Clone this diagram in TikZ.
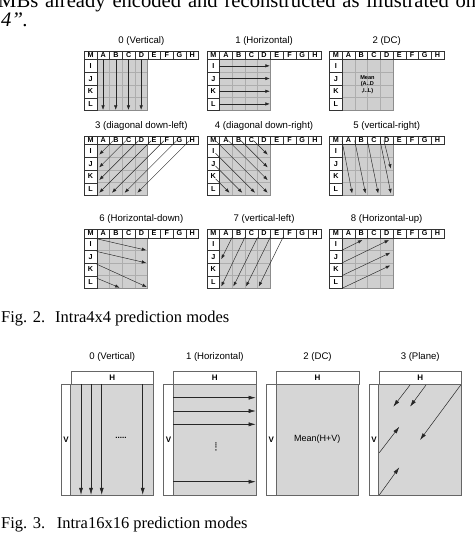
\documentclass[tikz,border=0pt]{standalone}
\usepackage{fontspec}
\setmainfont{Liberation Serif}
\setsansfont{Liberation Sans}
\usetikzlibrary{arrows.meta,positioning}
\tikzset{>={Latex[length=4.5pt,width=3.4pt]}}

\begin{document}
\begin{tikzpicture}[
    x=1pt, y=-1pt,
    hdr/.style={
      draw=black!80,
      line width=0.45pt,
      fill=white,
      inner sep=0pt,
      font=\sffamily\bfseries\fontsize{7.2}{8}\selectfont,
      minimum width=12.7pt,
    },
    toprow/.style={hdr, minimum height=8.5pt},
    leftcol/.style={hdr, minimum height=12.7pt},
    inner/.style={draw=black!32, line width=0.4pt},
    blk/.style={shift={#1}, shift={(12.7,8.5)}, x=12.7pt, y=-12.7pt},
    ray/.style={->, draw=black!85, line width=0.45pt},
    bigray/.style={-{Latex[length=7pt,width=4pt]}, draw=black!85, line width=0.5pt},
    title/.style={font=\sffamily\fontsize{9.6}{11}\selectfont, inner sep=0pt},
    bigbox/.style={
      draw=black!60,
      line width=0.45pt,
      fill=white,
      inner sep=0pt,
      font=\sffamily\bfseries\fontsize{8}{9}\selectfont,
    },
    caption/.style={anchor=base west, inner sep=0pt, font=\fontsize{16.5}{19}\selectfont},
    grid4/.pic={
      \fill[black!19] (12.7,8.5) rectangle (63.5,59.3);
      \foreach \i in {1,2,3} {
        \draw[inner] (12.7+\i*12.7,8.5) -- ++(0,50.8);
        \draw[inner] (12.7,8.5+\i*12.7) -- ++(50.8,0);
      }
      \draw[draw=black!45, line width=0.45pt] (12.7,8.5) rectangle (63.5,59.3);
      \foreach \l [count=\i from 0] in {M,A,B,C,D,E,F,G,H}
        \node[toprow, anchor=north west] (-\l) at (\i*12.7,0) {\l};
      \foreach \l [count=\j from 0] in {I,J,K,L}
        \node[leftcol, anchor=north west] (-\l) at (0,8.5+\j*12.7) {\l};
    },
    grid16/.pic={
      \node[bigbox, minimum width=82.6pt, minimum height=13.3pt, anchor=north west] (-H) at (10,0) {H};
      \node[bigbox, minimum width=10pt, minimum height=110.7pt, anchor=north west] (-V) at (0,13.3) {V};
      \filldraw[fill=black!16, draw=black!60, line width=0.45pt] (10,13.3) rectangle (92.6,124);
    },
  ]
  \useasboundingbox (0,0) rectangle (474,534);

  % running text above the figures
  \node[anchor=base west, inner sep=0pt, font=\fontsize{20.6}{24}\selectfont] (body1) at (-2,7.5)
    {\makebox[478pt][s]{MBs already encoded and reconstructed as illustrated on}};
  \node[anchor=base west, inner sep=0pt, font=\fontsize{20.6}{24}\selectfont] (body2) at (1,26.7)
    {\itshape 4”.};

  % Intra4x4 grids
  \pic (g0) at (84,51) {grid4};
  \pic (g1) at (206.7,51) {grid4};
  \pic (g2) at (329.3,51) {grid4};
  \pic (g3) at (84,136) {grid4};
  \pic (g4) at (206.7,136) {grid4};
  \pic (g5) at (329.3,136) {grid4};
  \pic (g6) at (84,229) {grid4};
  \pic (g7) at (206.7,229) {grid4};
  \pic (g8) at (329.3,229) {grid4};

  \node[title, above=5pt of g0-D] (t0) {0 (Vertical)};
  \node[title, above=5pt of g1-D] (t1) {1 (Horizontal)};
  \node[title, above=5pt of g2-D] (t2) {2 (DC)};
  \node[title, above=5pt of g3-D] (t3) {3 (diagonal down-left)};
  \node[title, above=5pt of g4-D] (t4) {4 (diagonal down-right)};
  \node[title, above=5pt of g5-D] (t5) {5 (vertical-right)};
  \node[title, above=5pt of g6-D] (t6) {6 (Horizontal-down)};
  \node[title, above=5pt of g7-D] (t7) {7 (vertical-left)};
  \node[title, above=5pt of g8-D] (t8) {8 (Horizontal-up)};

  % mode 0
  \begin{scope}[blk={(84,51)}]
    \foreach \u in {0.5,1.5,2.5,3.5}
      \draw[ray] (\u,0) -- (\u,3.97);
  \end{scope}
  % mode 1
  \begin{scope}[blk={(206.7,51)}]
    \foreach \v in {0.5,1.5,2.5,3.5}
      \draw[ray] (0,\v) -- (3.97,\v);
  \end{scope}
  % mode 2
  \begin{scope}[blk={(329.3,51)}]
    \node[align=center, inner sep=0pt, font=\sffamily\bfseries\fontsize{5.6}{6.6}\selectfont] (dc4) at (2,1.95)
      {Mean\\(A..D\\,I..L)};
  \end{scope}
  % mode 3
  \begin{scope}[blk={(84,136)}]
    \foreach \k/\u/\v in {1/0.2/0.8, 2/0.2/1.8, 3/0.2/2.8, 4/0.2/3.8, 5/1.2/3.8, 6/2.2/3.8, 7/3.2/3.8}
      \draw[ray] (\k+0.3,-0.3) -- (\u,\v);
  \end{scope}
  % mode 4
  \begin{scope}[blk={(206.7,136)}]
    \foreach \a/\b/\u/\v in {2.7/-0.3/3.8/0.8, 1.7/-0.3/3.8/1.8, 0.7/-0.3/3.8/2.8, -0.3/-0.3/3.8/3.8,
        -0.3/0.7/2.8/3.8, -0.3/1.7/1.8/3.8, -0.3/2.7/0.8/3.8}
      \draw[ray] (\a,\b) -- (\u,\v);
  \end{scope}
  % mode 5
  \begin{scope}[blk={(329.3,136)}]
    \foreach \a/\b/\u/\v in {0/-0.3/0.8/3.85, 1/-0.3/1.85/3.85, 2/-0.3/2.85/3.85, 3/-0.3/3.85/3.85, 3.3/-0.3/3.85/1.9}
      \draw[ray] (\a,\b) -- (\u,\v);
  \end{scope}
  % mode 6
  \begin{scope}[blk={(84,229)}]
    \foreach \a/\b/\u/\v in {0/0.1/3.9/1.0, 0/1.1/3.9/2.0, 0/2.1/3.95/3.9, 0/3.2/1.8/3.95}
      \draw[ray] (\a,\b) -- (\u,\v);
  \end{scope}
  % mode 7
  \begin{scope}[blk={(206.7,229)}]
    \foreach \a/\u/\v in {1/0.15/1.7, 2/0.15/3.85, 3/1.1/3.85, 4/2.1/3.85, 5/3.1/3.85}
      \draw[ray] (\a,0) -- (\u,\v);
  \end{scope}
  % mode 8
  \begin{scope}[blk={(329.3,229)}]
    \foreach \b/\u/\v in {1/1.6/0.2, 2/3.7/0.2, 3/3.8/1.2, 4/3.8/2.2}
      \draw[ray] (0,\b) -- (\u,\v);
  \end{scope}

  \node[caption] (cap2a) at (1,322) {Fig. 2.};
  \node[caption] (cap2b) at (55,322) {Intra4x4 prediction modes};

  % Intra16x16 grids
  \pic (m0) at (60.7,371) {grid16};
  \pic (m1) at (163.3,371) {grid16};
  \pic (m2) at (266,371) {grid16};
  \pic (m3) at (368.7,371) {grid16};

  \node[title, above=9pt of m0-H] (s0) {0 (Vertical)};
  \node[title, above=9pt of m1-H] (s1) {1 (Horizontal)};
  \node[title, above=9pt of m2-H] (s2) {2 (DC)};
  \node[title, above=9pt of m3-H] (s3) {3 (Plane)};

  \begin{scope}[shift={(70.7,384.3)}]
    \foreach \u in {10.3,20.3,31,72}
      \draw[bigray] (\u,0) -- (\u,110.5);
    \node[inner sep=0pt, font=\sffamily\bfseries\fontsize{8}{9}\selectfont] (dots0) at (50.3,54) {.....};
  \end{scope}
  \begin{scope}[shift={(173.3,384.3)}]
    \foreach \v in {13.4,26.7,40,97.4}
      \draw[bigray] (0,\v) -- (82.4,\v);
    \node[rotate=90, inner sep=0pt, font=\sffamily\bfseries\fontsize{8}{9}\selectfont] (dots1) at (42.6,62.4) {....};
  \end{scope}
  \begin{scope}[shift={(276,384.3)}]
    \node[inner sep=0pt, font=\sffamily\fontsize{9}{10}\selectfont] (mean16) at (41.3,55) {Mean(H+V)};
  \end{scope}
  \begin{scope}[shift={(379.3,384.3)}]
    \draw[bigray] (30.7,0.7) -- (14,22.4);
    \draw[bigray] (46.7,0.7) -- (30.7,22.4);
    \draw[bigray] (81.4,0.7) -- (40.7,55.7);
    \draw[bigray] (0,68.4) -- (20,42.4);
    \draw[bigray] (0,110.7) -- (20,83);
  \end{scope}

  \node[caption] (cap3a) at (1,528) {Fig. 3.};
  \node[caption] (cap3b) at (56.7,528) {Intra16x16 prediction modes};
\end{tikzpicture}
\end{document}
